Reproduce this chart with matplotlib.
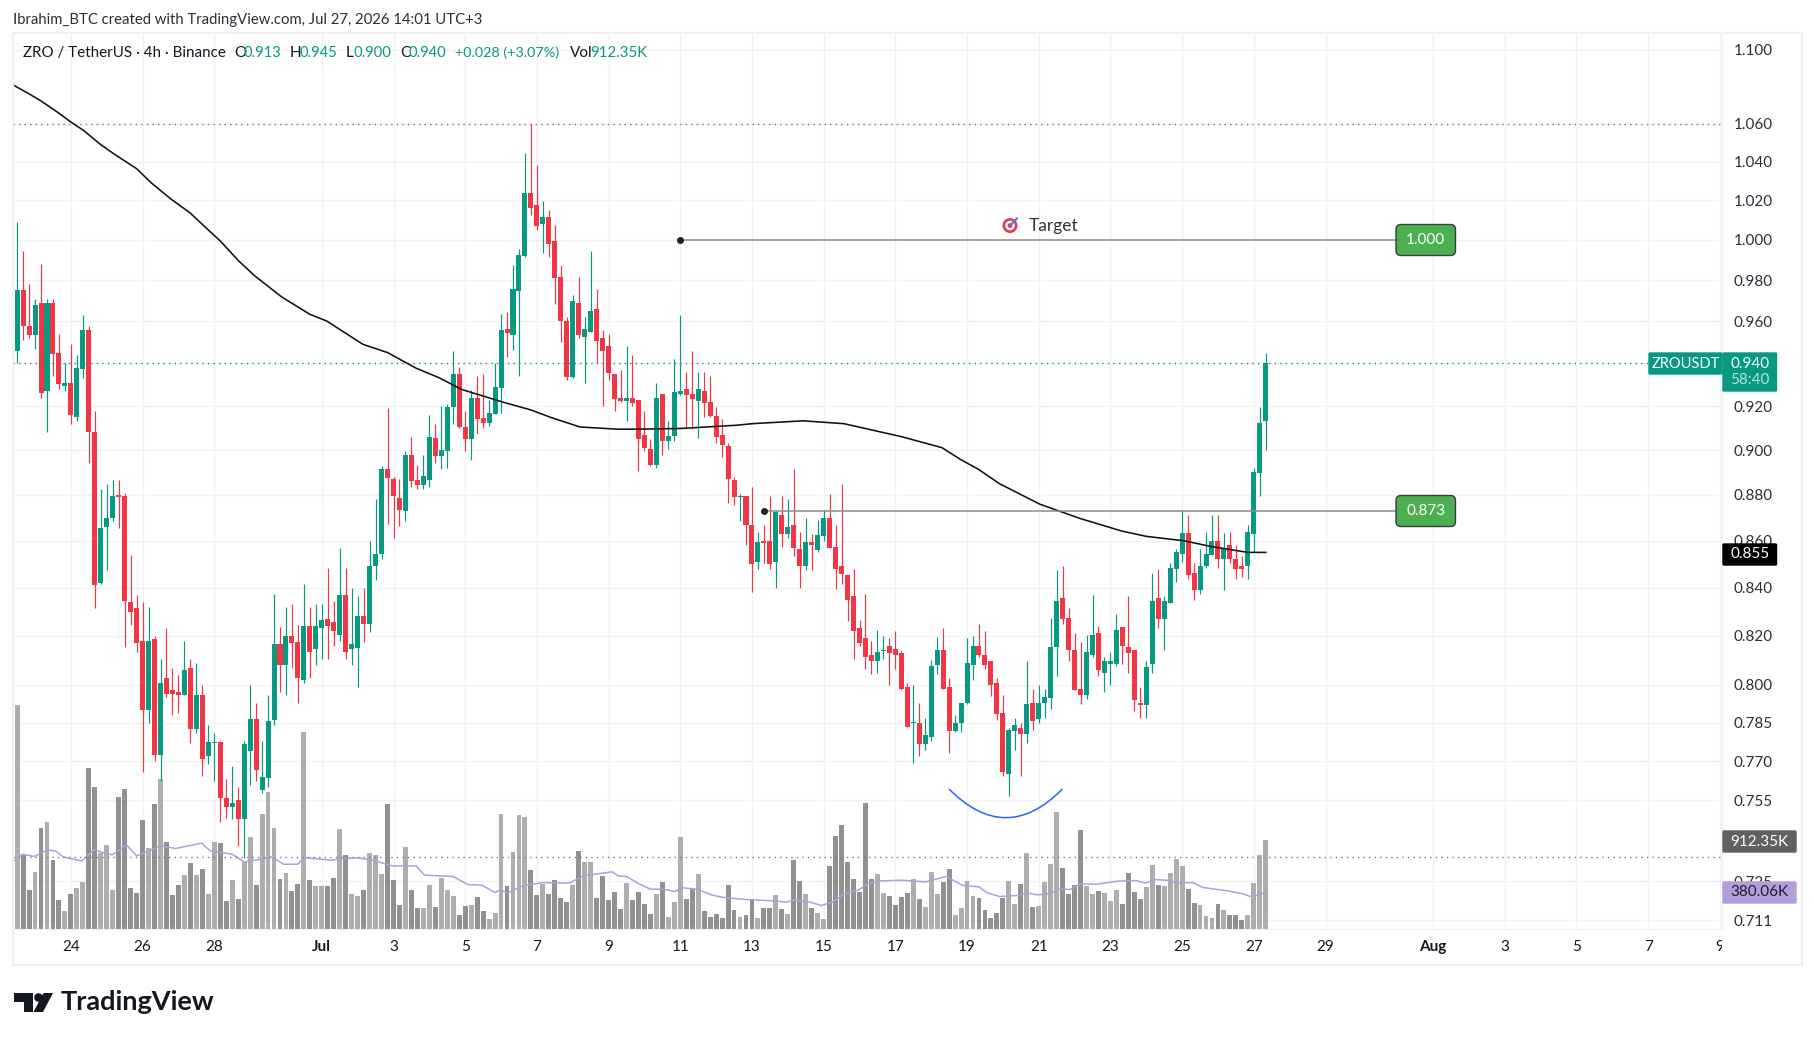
import numpy as np
import matplotlib
matplotlib.use('Agg')
import matplotlib.pyplot as plt
from matplotlib.patches import FancyBboxPatch, Rectangle, Circle, Polygon, PathPatch
from matplotlib.path import Path
from matplotlib.ticker import NullLocator
from matplotlib.transforms import Bbox

plt.rcParams['font.family'] = ['Lato', 'DejaVu Sans']

# 4h candles
opens = [.946,.975,.958,.9535,.969,.927,.969,.945,.9295,.931,
 .915,.9375,.956,.908,.842,.866,.870,.880,.8795,.834,
 .8315,.8177,.790,.8185,.7725,.803,.798,.797,.796,.807,
 .7825,.796,.772,.777,.7775,.756,.7525,.755,.748,.774,
 .7865,.759,.7635,.786,.8165,.808,.820,.8175,.802,.824,
 .8145,.823,.827,.8255,.8205,.837,.8145,.815,.828,.8247,
 .849,.8545,.8914,.887,.8785,.873,.898,.8865,.8845,.8865,
 .9055,.8975,.8998,.9195,.935,.9105,.905,.924,.9145,.9125,
 .9165,.9285,.9565,.9535,.9745,.992,1.024,1.0175,1.008,1.0115,
 .9995,.9815,.960,.9335,.969,.9525,.955,.966,.952,.948,
 .935,.924,.9225,.924,.923,.907,.9003,.8935,.9255,.904,
 .9065,.9255,.928,.9255,.9225,.927,.922,.9155,.907,.902,
 .8865,.879,.8795,.867,.851,.860,.860,.851,.871,.863,
 .867,.8565,.849,.8595,.856,.862,.870,.8575,.849,.8453,
 .8365,.823,.819,.812,.8095,.8137,.8157,.8145,.813,.799,
 .7848,.785,.7765,.7795,.808,.8142,.7992,.7818,.7848,.793,
 .808,.816,.812,.8095,.801,.789,.765,.7818,.783,.7805,
 .793,.7865,.793,.7947,.8152,.8355,.8275,.8143,.7983,.796,
 .812,.821,.805,.8083,.8083,.8235,.8155,.8143,.793,.792,
 .8083,.8355,.8268,.8337,.848,.8545,.8635,.846,.839,.849,
 .854,.860,.852,.858,.852,.849,.849,.863,.8895,.913]
highs = [1.009,.9945,.978,.971,.988,.971,.971,.954,.940,.949,
 .944,.963,.958,.918,.8825,.885,.8865,.8865,.881,.854,
 .837,.834,.832,.820,.8105,.823,.807,.804,.818,.8105,
 .809,.800,.784,.781,.778,.763,.768,.760,.778,.800,
 .793,.778,.796,.8375,.8235,.832,.833,.8245,.8415,.832,
 .833,.833,.8485,.8345,.857,.8485,.840,.8365,.840,.860,
 .878,.893,.919,.888,.887,.8995,.906,.8935,.898,.916,
 .912,.920,.921,.946,.9385,.918,.9275,.934,.935,.923,
 .940,.9635,.9645,.9875,.9955,1.0445,1.060,1.0385,1.0195,1.015,
 1.0075,.9875,.962,.973,.9815,.962,.9945,.9755,.956,.954,
 .935,.937,.948,.944,.923,.918,.905,.931,.9255,.913,
 .942,.963,.936,.946,.936,.936,.934,.9195,.914,.903,
 .888,.8803,.8795,.8835,.864,.867,.8795,.8735,.8795,.878,
 .8915,.864,.870,.863,.869,.8735,.8805,.867,.885,.8453,
 .848,.8265,.8375,.818,.8225,.820,.819,.822,.814,.801,
 .800,.793,.787,.810,.8195,.823,.803,.788,.793,.819,
 .820,.825,.822,.8095,.803,.796,.783,.787,.785,.8095,
 .7985,.800,.7985,.8275,.8475,.849,.8315,.821,.8175,.8205,
 .837,.824,.8115,.8135,.829,.8235,.8365,.8143,.799,.8095,
 .846,.848,.8365,.8505,.8565,.8735,.871,.8505,.8565,.864,
 .871,.871,.8635,.864,.858,.8535,.867,.892,.9195,.945]
lows = [.940,.951,.952,.947,.924,.908,.934,.928,.927,.912,
 .913,.933,.894,.8315,.8415,.8475,.8685,.8655,.8155,.8245,
 .8135,.766,.785,.770,.7625,.795,.788,.789,.796,.777,
 .781,.7645,.769,.7625,.747,.7485,.748,.738,.7335,.761,
 .7625,.758,.760,.784,.797,.796,.807,.793,.801,.803,
 .808,.8105,.8105,.816,.818,.8105,.808,.799,.8175,.8215,
 .8433,.852,.8672,.861,.8665,.8685,.8835,.8825,.8825,.8835,
 .894,.8915,.892,.912,.910,.8995,.8955,.9075,.910,.911,
 .9165,.917,.943,.9465,.934,.9915,1.0125,1.005,.9935,.9915,
 .9685,.950,.932,.933,.952,.931,.955,.940,.920,.932,
 .918,.922,.913,.920,.8905,.8995,.893,.892,.898,.9003,
 .904,.925,.910,.9095,.9055,.915,.915,.903,.897,.8765,
 .8755,.8685,.858,.838,.848,.8505,.848,.840,.8575,.861,
 .8533,.840,.8475,.8475,.855,.860,.857,.8395,.8415,.826,
 .8105,.8157,.8065,.8045,.805,.8105,.800,.8065,.798,.7835,
 .7695,.772,.7745,.778,.8045,.7985,.773,.7815,.7815,.7925,
 .802,.8115,.8065,.7955,.786,.7645,.7565,.7745,.7645,.777,
 .782,.785,.787,.7903,.8035,.825,.8095,.798,.7925,.7945,
 .8115,.8035,.797,.800,.8075,.8085,.805,.7895,.787,.787,
 .8047,.823,.814,.8337,.8425,.851,.8435,.835,.8375,.8485,
 .854,.8485,.839,.8505,.8435,.8445,.8435,.855,.8795,.900]
closes = [.975,.958,.9535,.968,.926,.969,.9445,.9305,.931,.916,
 .938,.956,.908,.841,.8655,.870,.8795,.879,.8345,.830,
 .817,.790,.8177,.7725,.801,.7965,.7965,.796,.806,.7825,
 .796,.771,.7775,.7775,.756,.7525,.754,.748,.7765,.7865,
 .7665,.764,.7855,.8165,.808,.820,.817,.803,.824,.8135,
 .824,.8265,.824,.822,.837,.8135,.8165,.828,.825,.849,
 .8543,.8914,.8875,.8795,.8735,.898,.886,.8845,.8885,.906,
 .8975,.900,.9195,.935,.9105,.905,.924,.914,.9125,.917,
 .929,.956,.9545,.9755,.9925,1.024,1.016,1.007,1.0115,.998,
 .981,.960,.9335,.970,.9535,.9565,.965,.9505,.946,.9355,
 .9235,.9225,.924,.9215,.905,.901,.8935,.924,.904,.9065,
 .9265,.927,.925,.9235,.928,.9215,.9157,.906,.9025,.887,
 .879,.8795,.8668,.850,.8595,.859,.850,.8725,.863,.866,
 .857,.849,.8595,.858,.8625,.870,.857,.848,.8457,.8347,
 .822,.817,.8115,.8095,.8135,.814,.813,.812,.7985,.7835,
 .785,.7765,.780,.8075,.8142,.7985,.7818,.785,.793,.809,
 .816,.812,.808,.800,.7885,.766,.782,.784,.7805,.7925,
 .7857,.793,.795,.8155,.8345,.8268,.814,.798,.796,.8135,
 .8205,.806,.8095,.8095,.8223,.816,.813,.794,.792,.8072,
 .8345,.8268,.8345,.8485,.855,.8635,.8455,.839,.849,.8545,
 .860,.852,.8565,.852,.848,.848,.864,.890,.9125,.940]
# volume in thousands
volumes = [2296,759,400,584,1035,1097,707,297,185,359,
 420,482,1650,1456,786,861,400,1353,1435,420,
 369,1117,830,1281,1538,892,349,451,554,677,
 554,615,359,892,882,287,502,308,690,943,
 451,1179,1404,1035,513,574,390,461,2019,502,
 441,441,441,523,1025,759,359,338,400,779,
 759,564,1281,502,246,841,400,215,215,451,
 226,523,400,338,144,236,246,328,185,103,
 164,1179,441,789,1169,1148,605,349,461,359,
 502,318,277,451,800,687,687,318,543,297,
 379,205,472,297,379,256,154,359,482,123,
 277,943,308,413,564,185,123,154,113,451,
 195,123,144,308,113,215,215,349,205,154,
 707,492,359,215,164,103,646,953,1066,687,
 513,379,1292,513,564,369,338,246,328,369,
 513,308,226,584,359,482,615,144,215,492,
 338,318,195,113,164,318,492,256,461,779,
 226,236,482,666,1199,625,359,451,1015,441,
 359,390,369,287,400,256,574,379,308,431,
 656,451,441,574,718,646,410,267,246,133,
 113,256,195,144,144,92,144,472,759,912.35]

# moving average read at some bars
ma_bars = [-0.6,1.9,4,6.7,9.1,11.1,13.9,16.3,20,22.4,25.8,28.9,31.3,34,37.1,39.8,44.3,49,51.8,57.9,62,66.8,70.6,74.4,81.2,86,89.4,94.2,100.4,104,111,120.5,123,131.6,138.4,148,154.8,157.9,160.9,164.4,171.2,178,184.9,189,195.3,199.9,206,209]
ma_vals = [1.0807,1.0762,1.0722,1.0663,1.0607,1.0565,1.0492,1.0439,1.0364,1.0292,1.0206,1.0138,1.007,.9995,.9895,.9821,.9718,.9634,.9602,.949,.9451,.9377,.9333,.9278,.922,.9183,.9148,.9105,.9095,.9095,.9098,.9113,.912,.9133,.912,.9061,.9011,.8958,.8914,.885,.8759,.8696,.8642,.8619,.860,.8575,.855,.855]
# volume average (thousands)
vma_bars = [-0.6,.9,2.9,5,6.4,7.7,10.8,12.8,15.9,18.3,20,24.1,26.5,30.9,32.3,36,38,40.9,42.6,44.6,47,48,52.5,55.2,57.3,59.6,62.7,66.8,68.2,73,75.4,77.8,80,80.8,82.2,84.6,88,92.4,94.8,99.6,100.6,102,104,106,108.3,110,111.4,113.8,116.2,117.9,122,126.8,128.8,129.9,132.6,134.6,136.3,138.4,140.8,142.5,144.5,148,152,155.5,158.2,161,162.3,164.4,167.4,169.1,170.8,172.9,174.3,176.3,178,180.7,184.2,187.2,188.9,190.6,193,194,196.8,198.5,202.6,205,206.4,207.7,209]
vma_vals = [700,769,745,813,803,741,700,813,762,864,752,854,827,882,803,769,690,718,741,666,666,735,707,728,728,707,649,649,554,540,458,451,376,403,372,444,478,472,547,588,547,540,468,410,410,386,424,410,352,328,304,290,277,297,280,243,273,359,400,472,495,502,485,540,451,434,376,335,345,372,352,366,410,407,465,461,492,499,472,509,499,475,478,427,393,366,335,349,380]

price_ticks = [1.100,1.060,1.040,1.020,1.000,.980,.960,.940,.920,.900,.880,.860,.840,.820,.800,.785,.770,.755,.725,.711]
date_pos = [9,21,33,51,63,75,87,99,111,123,135,147,159,171,183,195,207,219,237,249,261,273,285]
date_lab = ['24','26','28','Jul','3','5','7','9','11','13','15','17','19','21','23','25','27','29','Aug','3','5','7','9']

W, H = 1815, 1040
LEFT, RIGHT, TOP, BOT = 13, 1721.6, 32.2, 929.2
GREEN = '#089981'
RED = '#F23645'

fig = plt.figure(figsize=(W/100, H/100), dpi=100, facecolor='white')

def rect(l, r, t, b):
    return [l/W, 1-b/H, (r-l)/W, (b-t)/H]

# price axes: grid and labels
ax = fig.add_axes(rect(LEFT, RIGHT, TOP, BOT))
ax.set_yscale('log')
xlim = (-0.69, 285.3)
ylim = (.7078, 1.1098)
ax.set_xlim(xlim)
ax.set_ylim(ylim)

# volume
axv = ax.twinx()
axv.set_ylim(0, (BOT-TOP)*10.25)
axv.set_yticks([])
axv.patch.set_visible(False)
for s in axv.spines.values():
    s.set_visible(False)
x = np.arange(len(closes))
o = np.array(opens)
c = np.array(closes)
h = np.array(highs)
l = np.array(lows)
up = c >= o
axv.bar(x, volumes, width=0.82, color=['#a3a3a3' if u else '#828282' for u in up], alpha=0.88, lw=0)
axv.plot(vma_bars, vma_vals, color='#B39DDB', lw=1.1)
axv.axhline(745, color='#787B86', lw=1, ls=(0, (1, 3)))

# candles on their own layer above the volume
axc = ax.twinx()
axc.set_yscale('log')
axc.set_ylim(ylim)
axc.set_yticks([])
axc.yaxis.set_minor_locator(NullLocator())
axc.patch.set_visible(False)
for s in axc.spines.values():
    s.set_visible(False)
colors = [GREEN if u else RED for u in up]
axc.axhline(1.06, color='#787B86', lw=1, ls=(0, (1, 3)))
axc.axhline(.94, color=GREEN, lw=1, ls=(0, (1, 3)))
axc.vlines(x, l, h, colors=colors, lw=0.85)
axc.bar(x, np.maximum(np.abs(c-o), .0005), bottom=np.minimum(o, c), width=0.84, color=colors, lw=0)
axc.plot(ma_bars, ma_vals, color='#111111', lw=1.15)

# horizontal drawings
axc.plot([111, 233.1], [1.0, 1.0], color='#8c8c8c', lw=1.1)
axc.plot([111], [1.0], 'o', color='#222222', ms=4)
axc.plot([125, 233.1], [.873, .873], color='#8c8c8c', lw=1.1)
axc.plot([125], [.873], 'o', color='#222222', ms=4)

# twinx moved the labels to the left, so do the ticks after it
ax.yaxis.tick_right()
ax.set_yticks(price_ticks)
ax.set_yticklabels(['%.3f' % p for p in price_ticks])
ax.yaxis.set_minor_locator(NullLocator())
ax.set_xticks(date_pos)
ax.set_xticklabels(date_lab)
ax.tick_params(axis='y', length=0, pad=8.5, labelsize=11, labelcolor='#2a2e39')
ax.tick_params(axis='x', length=0, pad=8, labelsize=11, labelcolor='#131722')
ax.grid(True, color='#f2f2f2', lw=1.0)
ax.set_axisbelow(True)
for s in ax.spines.values():
    s.set_visible(False)
ax.spines['right'].set_visible(True)
ax.spines['right'].set_color('#eeeeee')
ax.spines['bottom'].set_visible(True)
ax.spines['bottom'].set_color('#f0f0f0')
for lbl in ax.get_xticklabels():
    if lbl.get_text() in ('Jul', 'Aug'):
        lbl.set_fontweight('bold')
# last date label gets cut off by the price scale
last = ax.get_xticklabels()[-1]
last.set_clip_on(True)
last.set_clip_box(Bbox([[0, 0], [RIGHT, H]]))

ax.set_zorder(1)
axv.set_zorder(2)
axc.set_zorder(3)

# overlay in pixels for tags, header and the logo
ov = fig.add_axes([0, 0, 1, 1], zorder=10)
ov.set_xlim(0, W)
ov.set_ylim(H, 0)
ov.axis('off')

# chart frame
ov.add_patch(Rectangle((13, 33), 1802-13, 965-33, fill=False, ec='#f0f0f0', lw=1.6))

def tag(x0, x1, y0, y1, fc, ec=None, r=0.5):
    ov.add_patch(FancyBboxPatch((x0+r, y0+r), x1-x0-2*r, y1-y0-2*r, boxstyle='round,pad=%g,rounding_size=%g' % (r, r*2),
                                fc=fc, ec=ec if ec else fc, lw=1))

tag(1396, 1455.5, 224.5, 255.5, '#4CAF50', '#3a3a3a', r=2.5)
ov.text(1425.7, 240, '1.000', color='white', fontsize=11, ha='center', va='center')
tag(1396, 1455.5, 495.5, 526.5, '#4CAF50', '#3a3a3a', r=2.5)
ov.text(1425.7, 511, '0.873', color='white', fontsize=11, ha='center', va='center')

tag(1649, 1722, 353, 374, GREEN)
ov.text(1685.5, 363.5, 'ZROUSDT', color='white', fontsize=10.5, ha='center', va='center')
tag(1723, 1776.5, 353, 391, GREEN)
ov.text(1750, 363.5, '0.940', color='white', fontsize=11, ha='center', va='center')
ov.text(1750, 380.5, '58:40', color='#b5e3da', fontsize=11, ha='center', va='center')
tag(1723, 1776.5, 544, 565, 'black')
ov.text(1750, 554.5, '0.855', color='white', fontsize=11, ha='center', va='center')
tag(1723, 1796, 831, 852, '#616161')
ov.text(1759.5, 841.5, '912.35K', color='white', fontsize=11, ha='center', va='center')
tag(1723, 1796, 882, 903, '#B39DDB')
ov.text(1759.5, 892.5, '380.06K', color='#1f1f2b', fontsize=11, ha='center', va='center')

# header
ov.text(13, 20, 'Ibrahim_BTC created with TradingView.com, Jul 27, 2026 14:01 UTC+3', color='#2a2e39', fontsize=10.7, va='center')
ov.text(23, 53, 'ZRO / TetherUS · 4h · Binance', color='#131722', fontsize=10.9, va='center')
for xp, s, col, fs in [(234, 'O', '#131722', 11), (244, '0.913', GREEN, 10.6), (290, 'H', '#131722', 11), (300, '0.945', GREEN, 10.6),
                       (346, 'L', '#131722', 11), (353.5, '0.900', GREEN, 10.6), (400, 'C', '#131722', 11), (408.6, '0.940', GREEN, 10.6),
                       (454.7, '+0.028 (+3.07%)', GREEN, 10.4), (570, 'Vol', '#131722', 11), (590.6, '912.35K', GREEN, 10.8)]:
    ov.text(xp, 53, s, color=col, fontsize=fs, va='center')

# Target label
ov.add_patch(Circle((1010, 225.5), 7.5, fc='#e8385a', ec='none'))
ov.add_patch(Circle((1010, 225.5), 4.8, fc='white', ec='none'))
ov.add_patch(Circle((1010, 225.5), 2.4, fc='#e8385a', ec='none'))
ov.plot([1010, 1017], [225.5, 218.5], color='#3d7fd9', lw=1.5)
ov.text(1029, 226, 'Target', color='#333333', fontsize=12.5, va='center')

# blue arc under the low
arc = Path([(949, 789), (1006, 846.4), (1062.4, 789)], [Path.MOVETO, Path.CURVE3, Path.CURVE3])
ov.add_patch(PathPatch(arc, fc='none', ec='#2962FF', lw=1.1))

# logo
ov.add_patch(Polygon([(14, 993), (33, 993), (33, 1012), (24, 1012), (24, 1002), (14, 1002)], fc='#131722', ec='none'))
ov.add_patch(Circle((38.5, 997.5), 4.3, fc='#131722', ec='none'))
ov.add_patch(Polygon([(43.5, 993), (53, 993), (43, 1012), (33.5, 1012)], fc='#131722', ec='none'))
ov.text(61, 1002.5, 'TradingView', color='#131722', fontsize=19.5, fontweight='bold', va='center')

fig.savefig('out.png', dpi=100)
